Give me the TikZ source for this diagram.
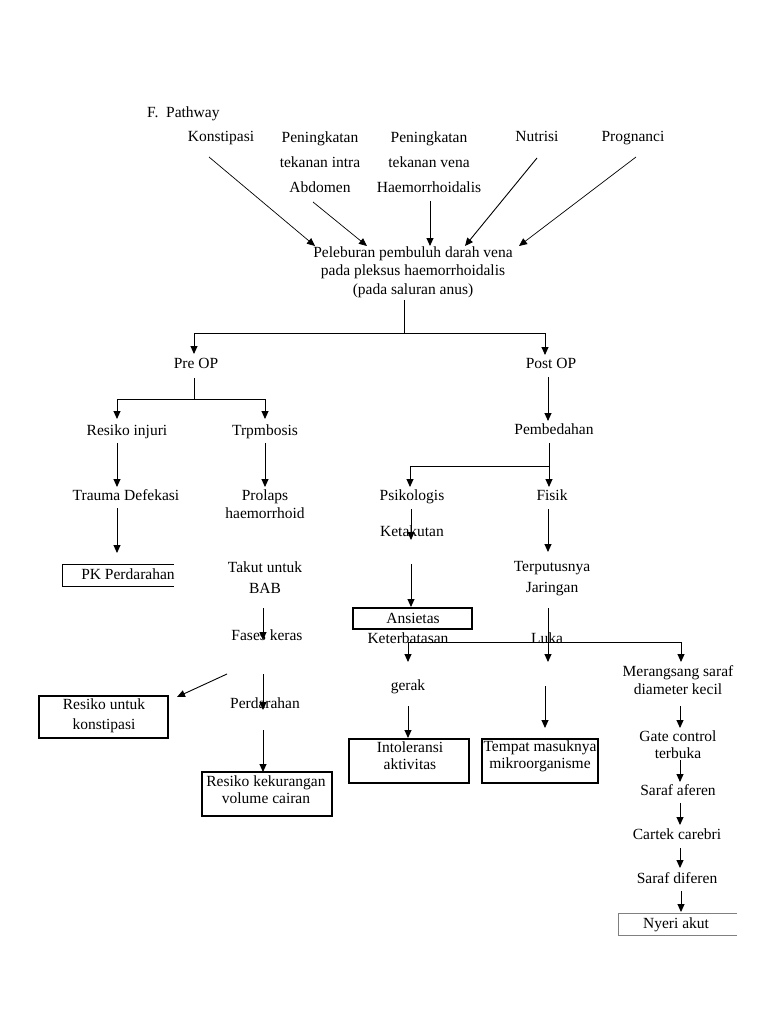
\documentclass[tikz,border=0pt]{standalone}
\usepackage{fontspec}
\setmainfont{Liberation Serif}
\usetikzlibrary{arrows.meta}
\begin{document}
\begin{tikzpicture}[x=1pt,y=-1pt,
  txt/.style={inner sep=0pt, align=center, text height=12.5pt, text depth=1.5pt, font=\fontsize{15.5}{18}\selectfont},
  multi/.style={text height=, text depth=},
  lsA/.style={multi, font=\fontsize{15.5}{25}\selectfont},
  lsB/.style={multi, font=\fontsize{15.5}{18.5}\selectfont},
  lsC/.style={multi, font=\fontsize{15.5}{21}\selectfont},
  lsD/.style={multi, font=\fontsize{15.5}{17}\selectfont},
  lsE/.style={multi, font=\fontsize{15.5}{20}\selectfont},
  arr/.style={line width=0.9pt, -{Triangle[length=8pt,width=7pt]}},
  thinarr/.style={line width=0.7pt, -{Triangle[length=8pt,width=7pt]}},
  ln/.style={line width=0.9pt},
  boxed/.style={draw, line width=1.3pt},
  openbox/.style={line width=1pt}]
\useasboundingbox (0,0) rectangle (768,1024);

% ---------- text nodes ----------
\node[txt, anchor=west] (title) at (147,112) {F.~ Pathway};
\node[txt] (konst) at (221,136) {Konstipasi};
\node[txt, lsA] (pen1) at (320,162) {Peningkatan\\tekanan intra\\Abdomen};
\node[txt, lsA] (pen2) at (429,162) {Peningkatan\\tekanan vena\\Haemorrhoidalis};
\node[txt] (nutr) at (537,136) {Nutrisi};
\node[txt] (prog) at (633,136) {Prognanci};
\node[txt, lsB] (peleb) at (413,272) {Peleburan pembuluh darah vena\\pada pleksus haemorrhoidalis\\(pada saluran anus)};

\node[txt] (preop) at (196,363) {Pre OP};
\node[txt] (postop) at (551,363) {Post OP};
\node[txt] (ri) at (127,430) {Resiko injuri};
\node[txt] (trp) at (265,430) {Trpmbosis};
\node[txt] (td) at (126,495) {Trauma Defekasi};
\node[txt, lsB] (prol) at (265,504) {Prolaps\\haemorrhoid};
\node[txt] (pk) at (128,574) {PK Perdarahan};
\node[txt, lsC] (takut) at (265,578) {Takut untuk\\BAB};
\node[txt] (fases) at (267,635) {Fases keras};
\node[txt] (perd) at (265,703) {Perdarahan};
\node[txt, lsE] (rk) at (104,716) {Resiko untuk\\konstipasi};
\node[txt, lsD] (rv) at (266,790) {Resiko kekurangan\\volume cairan};

\node[txt] (pemb) at (554,429) {Pembedahan};
\node[txt] (psi) at (412,495) {Psikologis};
\node[txt] (fis) at (552,495) {Fisik};
\node[txt] (ketak) at (412,531) {Ketakutan};
\node[txt] (ans) at (413,618) {Ansietas};
\node[txt, lsC] (terp) at (552,579) {Terputusnya\\Jaringan};
\node[txt] (keterb) at (408,638) {Keterbatasan};
\node[txt] (luka) at (547,638) {Luka};
\node[txt] (gerak) at (408,685) {gerak};
\node[txt, lsD] (intol) at (410,756) {Intoleransi\\aktivitas};
\node[txt, lsD] (tempat) at (540,756) {Tempat masuknya\\mikroorganisme};
\node[txt, lsB] (meran) at (678,680) {Merangsang saraf\\diameter kecil};
\node[txt, lsD] (gate) at (678,745) {Gate control\\terbuka};
\node[txt] (aferen) at (678,790) {Saraf aferen};
\node[txt] (cartek) at (677,834) {Cartek carebri};
\node[txt] (diferen) at (677,878) {Saraf diferen};
\node[txt] (nyeri) at (676,923) {Nyeri akut};

% ---------- boxes ----------
\draw[boxed] (39,696) rectangle (168,738);
\draw[boxed] (202,772) rectangle (332,816);
\draw[boxed] (353,608) rectangle (472,629);
\draw[boxed] (349,739) rectangle (469,783);
\draw[boxed] (482,739) rectangle (598,783);
\draw[openbox] (174,564) -- (62,564) -- (62,586) -- (174,586);
\draw[openbox, gray] (737,913) -- (618,913) -- (618,935) -- (737,935);

% ---------- connector end points ----------
\coordinate (k1) at (209,157);  \coordinate (k2) at (315,246);
\coordinate (a1) at (313,202);  \coordinate (a2) at (367,246);
\coordinate (h1) at (430,201);  \coordinate (h2) at (430,246);
\coordinate (n1) at (537,158);  \coordinate (n2) at (465,246);
\coordinate (p1) at (636,157);  \coordinate (p2) at (519,246);

\coordinate (s0) at (404,300);  \coordinate (s1) at (404,333);
\coordinate (jL) at (194,333);  \coordinate (jR) at (545,333);
\coordinate (preT) at (194,354); \coordinate (postT) at (545,355);

\coordinate (pre1) at (194,378); \coordinate (pre2) at (194,399);
\coordinate (pL) at (117,399);   \coordinate (pR) at (265,399);
\coordinate (riT) at (117,419);  \coordinate (trT) at (265,419);
\coordinate (ri1) at (117,443);  \coordinate (ri2) at (117,487);
\coordinate (tr1) at (265,443);  \coordinate (tr2) at (265,487);
\coordinate (td1) at (117,508);  \coordinate (td2) at (117,553);
\coordinate (tk1) at (263,608);  \coordinate (tk2) at (263,640);
\coordinate (fk1) at (263,674);  \coordinate (fk2) at (263,710);
\coordinate (dg1) at (227,674);  \coordinate (dg2) at (177,697);
\coordinate (pd1) at (263,730);  \coordinate (pd2) at (263,772);

\coordinate (po1) at (548,377);  \coordinate (po2) at (548,421);
\coordinate (pb1) at (549,443);  \coordinate (pb2) at (549,487);
\coordinate (pbJ) at (549,466);  \coordinate (psJ) at (410,466);
\coordinate (psT) at (410,487);
\coordinate (ps1) at (411,509);  \coordinate (ps2) at (411,540);
\coordinate (kt1) at (411,564);  \coordinate (kt2) at (411,607);
\coordinate (fs1) at (548,509);  \coordinate (fs2) at (548,552);
\coordinate (lk1) at (548,608);  \coordinate (lk2) at (548,662);
\coordinate (bL) at (408,642);   \coordinate (bR) at (681,642);
\coordinate (bLT) at (408,662);  \coordinate (bRT) at (681,662);
\coordinate (gr1) at (408,706);  \coordinate (gr2) at (408,738);
\coordinate (lu1) at (545,686);  \coordinate (lu2) at (545,728);
\coordinate (mr1) at (680,706);  \coordinate (mr2) at (680,728);
\coordinate (gc1) at (680,760);  \coordinate (gc2) at (680,782);
\coordinate (sa1) at (680,803);  \coordinate (sa2) at (680,825);
\coordinate (cc1) at (680,848);  \coordinate (cc2) at (680,868);
\coordinate (sd1) at (681,891);  \coordinate (sd2) at (681,912);

% ---------- connectors ----------
\draw[thinarr] (k1) -- (k2);
\draw[thinarr] (a1) -- (a2);
\draw[arr] (h1) -- (h2);
\draw[arr] (n1) -- (n2);
\draw[thinarr] (p1) -- (p2);

\draw[ln] (s0) -- (s1);
\draw[ln] (jL) -- (jR);
\draw[arr] (jL) -- (preT);
\draw[arr] (jR) -- (postT);

\draw[ln] (pre1) -- (pre2);
\draw[ln] (pL) -- (pR);
\draw[arr] (pL) -- (riT);
\draw[arr] (pR) -- (trT);
\draw[arr] (ri1) -- (ri2);
\draw[arr] (tr1) -- (tr2);
\draw[arr] (td1) -- (td2);
\draw[arr] (tk1) -- (tk2);
\draw[arr] (fk1) -- (fk2);
\draw[arr] (dg1) -- (dg2);
\draw[arr] (pd1) -- (pd2);

\draw[arr] (po1) -- (po2);
\draw[arr] (pb1) -- (pb2);
\draw[ln] (pbJ) -- (psJ);
\draw[arr] (psJ) -- (psT);
\draw[arr] (ps1) -- (ps2);
\draw[arr] (kt1) -- (kt2);
\draw[arr] (fs1) -- (fs2);
\draw[arr] (lk1) -- (lk2);
\draw[ln] (bL) -- (bR);
\draw[arr] (bL) -- (bLT);
\draw[arr] (bR) -- (bRT);
\draw[arr] (gr1) -- (gr2);
\draw[arr] (lu1) -- (lu2);
\draw[arr] (mr1) -- (mr2);
\draw[arr] (gc1) -- (gc2);
\draw[arr] (sa1) -- (sa2);
\draw[arr] (cc1) -- (cc2);
\draw[arr] (sd1) -- (sd2);
\end{tikzpicture}
\end{document}
